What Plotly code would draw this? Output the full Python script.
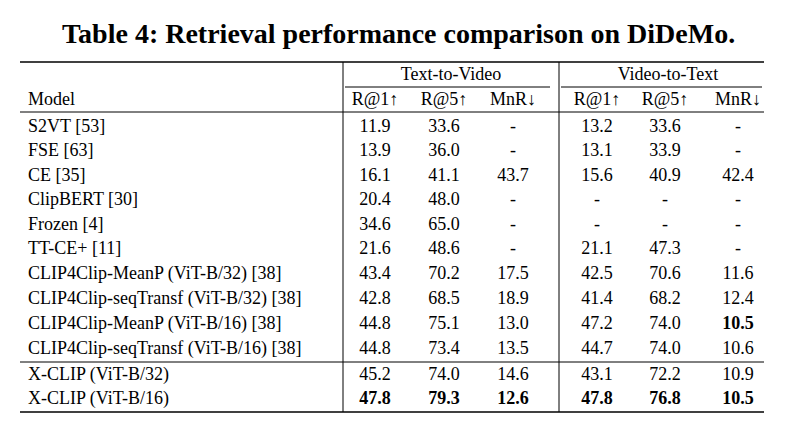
import plotly.graph_objects as go

models = ["S2VT [53]", "FSE [63]", "CE [35]", "ClipBERT [30]", "Frozen [4]", "TT-CE+ [11]",
          "CLIP4Clip-MeanP (ViT-B/32) [38]", "CLIP4Clip-seqTransf (ViT-B/32) [38]",
          "CLIP4Clip-MeanP (ViT-B/16) [38]", "CLIP4Clip-seqTransf (ViT-B/16) [38]",
          "X-CLIP (ViT-B/32)", "X-CLIP (ViT-B/16)"]
t2v_r1 = ["11.9", "13.9", "16.1", "20.4", "34.6", "21.6", "43.4", "42.8", "44.8", "44.8", "45.2", "<b>47.8</b>"]
t2v_r5 = ["33.6", "36.0", "41.1", "48.0", "65.0", "48.6", "70.2", "68.5", "75.1", "73.4", "74.0", "<b>79.3</b>"]
t2v_mnr = ["-", "-", "43.7", "-", "-", "-", "17.5", "18.9", "13.0", "13.5", "14.6", "<b>12.6</b>"]
v2t_r1 = ["13.2", "13.1", "15.6", "-", "-", "21.1", "42.5", "41.4", "47.2", "44.7", "43.1", "<b>47.8</b>"]
v2t_r5 = ["33.6", "33.9", "40.9", "-", "-", "47.3", "70.6", "68.2", "74.0", "74.0", "72.2", "<b>76.8</b>"]
v2t_mnr = ["-", "-", "42.4", "-", "-", "-", "11.6", "12.4", "<b>10.5</b>", "10.6", "10.9", "<b>10.5</b>"]
sub_headers = ["R@1↑", "R@5↑", "MnR↓", "R@1↑", "R@5↑", "MnR↓"]
groups = ["Text-to-Video", "Video-to-Text"]
title = "Table 4: Retrieval performance comparison on DiDeMo."

FONT = "Liberation Serif"
FS = 18
D = 8  # page offset compensation
col_x = [c - D for c in [375, 444, 513, 597, 665, 738]]
row_y = [r - D for r in [127, 151.5, 176, 200.5, 225, 249.5, 274, 299, 324, 349, 375, 399]]
cols = [t2v_r1, t2v_r5, t2v_mnr, v2t_r1, v2t_r5, v2t_mnr]
tf = dict(family=FONT, size=FS, color="black")

fig = go.Figure()
fig.add_trace(go.Scatter(x=[28 - D] * len(models), y=row_y, text=models, mode="text",
                         textposition="middle right", textfont=tf, hoverinfo="skip"))
for cx, vals in zip(col_x, cols):
    fig.add_trace(go.Scatter(x=[cx] * len(vals), y=row_y, text=vals, mode="text",
                             textposition="middle center", textfont=tf, hoverinfo="skip"))
fig.add_trace(go.Scatter(x=col_x + [28 - D], y=[100 - D] * 7, text=sub_headers + ["Model"], mode="text",
                         textposition=["middle center"] * 6 + ["middle right"],
                         textfont=tf, hoverinfo="skip"))
fig.add_trace(go.Scatter(x=[451 - D, 668 - D], y=[75 - D, 75 - D], text=groups, mode="text",
                         textposition="middle center", textfont=tf, hoverinfo="skip"))

line = dict(color="black", width=1)
raw = [
    (20, 764, 62, 62, 1.5), (345, 550, 87, 87, 1), (561, 762, 87, 87, 1),
    (20, 764, 112, 112, 1), (20, 764, 362, 362, 1), (20, 764, 412, 412, 1.5),
    (343, 343, 62, 412, 1), (559, 559, 62, 412, 1),
]
shapes = [dict(type="line", xref="x", yref="y", x0=a - D, x1=b - D, y0=c - D, y1=d - D,
               line=dict(color="black", width=w)) for a, b, c, d, w in raw]

fig.update_layout(
    width=807, height=435, margin=dict(l=0, r=0, t=0, b=0),
    paper_bgcolor="white", plot_bgcolor="white", showlegend=False,
    xaxis=dict(range=[0, 807], visible=False, fixedrange=True),
    yaxis=dict(range=[435, 0], visible=False, fixedrange=True),
    shapes=shapes,
    annotations=[dict(text="<b>" + title + "</b>", x=398 - D, y=33 - D, xref="x", yref="y", showarrow=False,
                      font=dict(family=FONT, size=28, color="black"))],
)
fig.write_html("out.html")
